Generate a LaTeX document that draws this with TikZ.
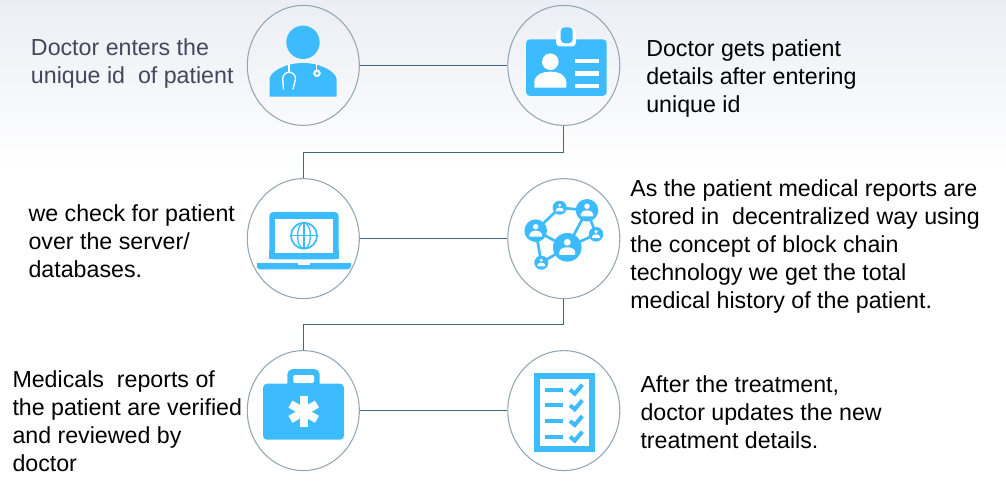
\documentclass[tikz,border=0pt]{standalone}
\usepackage{fontspec}
\usetikzlibrary{shapes.geometric}
\setmainfont{Liberation Sans}
\definecolor{iconblue}{HTML}{3DBBFF}
\definecolor{linkcol}{HTML}{44657F}
\definecolor{ringcol}{HTML}{93A6B6}
\definecolor{skytop}{HTML}{ECEEF5}
\definecolor{slate}{HTML}{44475B}
\tikzset{
  ring/.style={ellipse,draw=ringcol,line width=.8pt,minimum width=84pt,minimum height=90pt,inner sep=0pt},
  link/.style={draw=linkcol,line width=.75pt},
  caption/.style={anchor=north west,inner sep=0pt,outer sep=0pt,align=left,text=black,
    font=\fontsize{17.4pt}{21pt}\selectfont},
}
\newcommand\netperson[3]{%
  \fill[iconblue] (#1,#2) circle[radius=#3];
  \begin{scope}[shift={(#1,#2)},x=#3*.75pt,y=-#3*.75pt]
    \fill[white] (0,-.35) circle[radius=.24];
    \fill[white] (-.55,.53) -- (-.55,.32) .. controls (-.5,.08) and (-.25,0) .. (0,0)
      .. controls (.25,0) and (.5,.08) .. (.55,.32) -- (.55,.53) -- cycle;
  \end{scope}}
\begin{document}
\begin{tikzpicture}[x=.75pt,y=-.75pt]
\useasboundingbox (0,0) rectangle (1006,502);
\fill[white] (0,0) rectangle (1006,502);
\shade[top color=skytop,bottom color=white,draw=none] (0,0) rectangle (1006,170);

% rings
\node[ring] (doc)   at (303.3,65.4)  {};
\node[ring] (card)  at (563.8,65.4)  {};
\node[ring] (lap)   at (303.3,238.6) {};
\node[ring] (net)   at (563.8,238.6) {};
\node[ring] (bag)   at (303.3,410.6) {};
\node[ring] (list)  at (563.8,410.6) {};

% connectors
\coordinate (bendA) at (400,152.5);
\coordinate (bendB) at (400,324.5);
\draw[link] (doc.east) -- (card.west);
\draw[link] (card.south) -- (card.south |- bendA) -- (lap.north |- bendA) -- (lap.north);
\draw[link] (lap.east) -- (net.west);
\draw[link] (net.south) -- (net.south |- bendB) -- (bag.north |- bendB) -- (bag.north);
\draw[link] (bag.east) -- (list.west);

% doctor icon
\fill[iconblue] (303,42.3) circle[radius=16.7];
\fill[iconblue] (269.5,96.7) -- (269.5,79) .. controls (270,72) and (285,63) .. (303,63)
  .. controls (321,63) and (336,72) .. (336.5,79) -- (336.5,96.7) -- cycle;
\draw[white,line width=1pt] (289,64) -- (289,72);
\draw[white,line width=1pt,line cap=round] (283.5,89) -- (282.7,79)
  .. controls (282.7,70) and (295.5,70) .. (295.5,79) -- (293,89);
\draw[white,line width=1pt] (316.7,64) -- (316.7,70);
\fill[white] (317,73.3) circle[radius=3.8];
\fill[iconblue] (317,73.3) circle[radius=1.6];

% id card icon
\fill[iconblue,rounded corners=3pt] (526,39.3) rectangle (606.7,96);
\fill[white,rounded corners=3pt] (556,30) rectangle (576,46.5);
\fill[iconblue,rounded corners=3pt] (560.7,27.3) rectangle (572.7,43.3);
\fill[white] (550.3,61.7) circle[radius=8.3];
\fill[white] (534.3,87.7) -- (534.3,82) .. controls (535,74) and (543,71.7) .. (550.3,71.7)
  .. controls (558,71.7) and (565.5,74) .. (566.3,82) -- (566.3,87.7) -- cycle;
\fill[white] (574.7,59.3) rectangle (599,63.3);
\fill[white] (574.7,71.3) rectangle (599,75.7);
\fill[white] (574.7,83.7) rectangle (599,88);

% laptop icon
\fill[iconblue,rounded corners=3pt] (269.3,259.3) -- (269.3,212) -- (338.7,212) -- (338.7,259.3) -- cycle;
\fill[iconblue] (269.3,250) rectangle (338.7,259.3);
\fill[white] (275.3,218.7) rectangle (332.7,253.3);
\fill[iconblue,rounded corners=2.5pt] (256.7,263.3) -- (256.7,269.3) -- (351,269.3) -- (351,263.3) -- cycle;
\fill[iconblue] (256.7,263.3) rectangle (351,266);
\fill[white] (298,263.3) rectangle (310,265.3);
\draw[iconblue,line width=1.3pt] (304,235.7) circle[radius=13];
\draw[iconblue,line width=1pt] (304,235.7) circle[x radius=6.5,y radius=13];
\draw[iconblue,line width=1pt] (291,235.7) -- (317,235.7);
\draw[iconblue,line width=1pt] (304,222.7) -- (304,248.7);

% network icon
\draw[iconblue,line width=2pt]
  (535.7,230.7) -- (559.7,207.7) -- (587,210.3) -- (596,234.3) -- (567.3,247.3)
  -- (587,210.3)
  (535.7,230.7) -- (567.3,247.3) -- (541.3,262.7) -- cycle;
\netperson{567.3}{247.3}{14.3}
\netperson{535.7}{230.7}{11.3}
\netperson{559.7}{207.7}{7}
\netperson{587}{210.3}{11.3}
\netperson{596}{234.3}{7.3}
\netperson{541.3}{262.7}{7}

% bag icon
\fill[iconblue,rounded corners=4pt] (287.3,395) -- (287.3,369) -- (319.7,369) -- (319.7,395) -- cycle;
\fill[white,rounded corners=1pt] (293.3,375) rectangle (314,383);
\fill[iconblue,rounded corners=3pt] (263,383.7) rectangle (344,439.7);
\foreach \ang in {90,30,150}{
  \draw[white,line width=6pt] (303.7,411.7) ++(\ang:15.3) -- ++(\ang:-30.6);
}

% checklist icon
\fill[iconblue] (534,373) rectangle (595,451.7);
\fill[white] (539.7,378.7) rectangle (589.3,446);
\foreach \yy in {389.7,405.3,421,436.7}{
  \fill[iconblue] (545.3,\yy-2) rectangle (562.7,\yy+2);
  \draw[iconblue,line width=3pt] (570,\yy) -- (574.7,\yy+4) -- (582.3,\yy-5);
}

% captions
\node[caption,text=slate] (t1) at (31,36) {\strut Doctor enters the\\unique id\ \ of patient};
\node[caption] (t2) at (646.3,36.6) {\strut Doctor gets patient\\details after entering\\unique id};
\node[caption] (t3) at (28.6,202) {\strut we check for patient\\over the server/\\databases.};
\node[caption] (t4) at (630.3,176.6) {\strut As the patient medical reports are\\stored in\ \ decentralized way using\\the concept of block chain\\technology we get the total\\medical history of the patient.};
\node[caption] (t5) at (12.5,367.6) {\strut Medicals\ \ reports of\\the patient are verified\\and reviewed by\\doctor};
\node[caption] (t6) at (640.5,372.6) {\strut After the treatment,\\doctor updates the new\\treatment details.};
\end{tikzpicture}
\end{document}
